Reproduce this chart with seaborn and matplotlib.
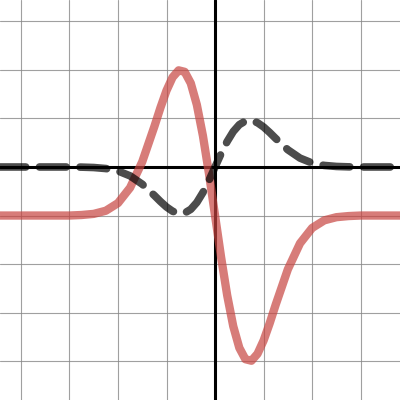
import numpy as np
import pandas as pd
import matplotlib
matplotlib.use("Agg")
import matplotlib.pyplot as plt
import seaborn as sns

# points (grid unit = 1)
x_vals = [-4.5, -3.5, -3.0, -2.75, -2.5, -2.25, -2.0, -1.75, -1.5, -1.25, -1.125, -1.0,
          -0.875, -0.75, -0.625, -0.5, -0.375, -0.25, -0.125, 0.0,
          0.125, 0.25, 0.375, 0.5, 0.625, 0.75, 0.875, 1.0, 1.125, 1.25,
          1.5, 1.75, 2.0, 2.25, 2.5, 2.75, 3.0, 4.0]
red_vals = [-1.0, -1.0, -1.0, -0.989, -0.966, -0.901, -0.744, -0.427, 0.107, 0.834, 1.221, 1.575,
            1.848, 1.991, 1.960, 1.726, 1.281, 0.644, -0.138, -1.0,
            -1.862, -2.644, -3.281, -3.726, -3.960, -3.991, -3.848, -3.575, -3.221, -2.834,
            -2.107, -1.573, -1.256, -1.099, -1.034, -1.011, -1.0, -1.0]
black_vals = [0.0, 0.0, 0.0, -0.003, -0.011, -0.032, -0.082, -0.183, -0.354, -0.587, -0.711, -0.824,
              -0.911, -0.957, -0.947, -0.872, -0.730, -0.526, -0.276, 0.0,
              0.276, 0.526, 0.730, 0.872, 0.947, 0.957, 0.911, 0.824, 0.711, 0.587,
              0.354, 0.183, 0.082, 0.032, 0.011, 0.003, 0.0, 0.0]

df = pd.DataFrame({"x": x_vals, "red": red_vals, "black": black_vals})

sns.set_style("white")
fig = plt.figure(figsize=(4, 4), dpi=100)
ax = fig.add_axes([0, 0, 1, 1])

ax.set_xlim(-4.43, 3.81)
ax.set_ylim(-4.8, 3.44)
ax.set_xticks(np.arange(-4, 4, 1))
ax.set_yticks(np.arange(-4, 4, 1))
ax.grid(True, color="#888888", linewidth=0.8, alpha=0.8)
ax.tick_params(length=0, labelbottom=False, labelleft=False)
for s in ax.spines.values():
    s.set_visible(False)
ax.axhline(0, color="black", linewidth=2.2, zorder=2)
ax.axvline(0, color="black", linewidth=2.2, zorder=2)

sns.lineplot(data=df, x="x", y="red", ax=ax, color="#c74440", alpha=0.7,
             linewidth=6, zorder=3)
sns.lineplot(data=df, x="x", y="black", ax=ax, color="black", alpha=0.7,
             linewidth=5.5, dashes=False, zorder=4)
ax.lines[-1].set_dashes([3.5, 1.8])
ax.lines[-1].set_dash_capstyle("round")
ax.set_xlabel("")
ax.set_ylabel("")

fig.savefig("out.png", dpi=100)
